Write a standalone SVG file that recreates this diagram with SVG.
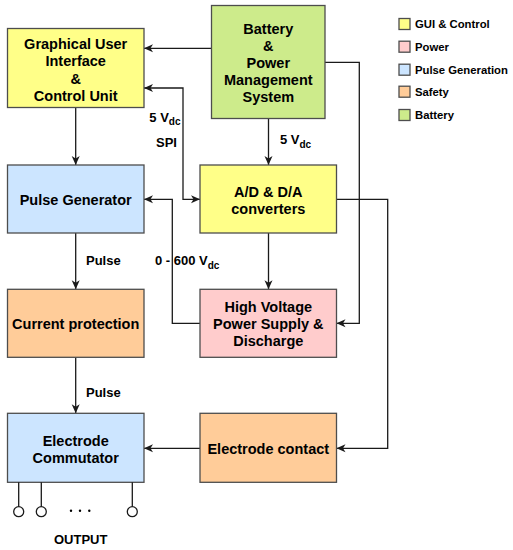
<svg xmlns="http://www.w3.org/2000/svg" width="513" height="550" viewBox="0 0 513 550">
<style>
.box{stroke:#4d4d4d;stroke-width:1.3}
.t{font-family:"Liberation Sans",Arial,sans-serif;font-weight:bold;font-size:14.5px;fill:#000;text-anchor:middle}
.lbl{font-family:"Liberation Sans",Arial,sans-serif;font-weight:bold;font-size:13px;fill:#000}
.leg{font-family:"Liberation Sans",Arial,sans-serif;font-weight:bold;font-size:11.3px;fill:#000}
.sub{font-size:10px}
.c{fill:none;stroke:#1a1a1a;stroke-width:1.3}
.gui{fill:#ffff88}.pow{fill:#ffcccc}.pul{fill:#cce5ff}.saf{fill:#ffcc99}.bat{fill:#cdeb8b}
</style>
<defs>
<marker id="ah" markerUnits="userSpaceOnUse" markerWidth="10" markerHeight="10" refX="9" refY="5" orient="auto-start-reverse" viewBox="0 0 10 10">
<path d="M0,1 L9,5 L0,9 L2.5,5 z" fill="#1a1a1a"/>
</marker>
</defs>
<rect width="513" height="550" fill="#fff"/>
<g id="connectors">
<path class="c" d="M211.5,48.3 H144" marker-end="url(#ah)"/>
<path class="c" d="M144,88 H183 V199.3 H200" marker-start="url(#ah)" marker-end="url(#ah)"/>
<path class="c" d="M325,62.3 H359.3 V323.3 H336.5" marker-end="url(#ah)"/>
<path class="c" d="M268.5,118.5 V165" marker-end="url(#ah)"/>
<path class="c" d="M75.7,107.5 V165" marker-end="url(#ah)"/>
<path class="c" d="M75.7,233 V289.3" marker-end="url(#ah)"/>
<path class="c" d="M268.5,233 V289.3" marker-end="url(#ah)"/>
<path class="c" d="M200,323.3 H172.3 V199.3 H144" marker-end="url(#ah)"/>
<path class="c" d="M336.5,199.3 H387.7 V448.3 H336.5" marker-end="url(#ah)"/>
<path class="c" d="M75.7,357.3 V413.3" marker-end="url(#ah)"/>
<path class="c" d="M200,448.3 H144" marker-end="url(#ah)"/>
<text class="lbl" x="149.3" y="121.7">5 V<tspan class="sub" dy="3.5">dc</tspan></text>
<text class="lbl" x="156" y="146.7">SPI</text>
<text class="lbl" x="280" y="144">5 V<tspan class="sub" dy="3.5">dc</tspan></text>
<text class="lbl" x="86" y="265">Pulse</text>
<text class="lbl" x="155" y="265">0 - 600 V<tspan class="sub" dy="3.5">dc</tspan></text>
<text class="lbl" x="86" y="397">Pulse</text>
</g>
<g id="gui">
<rect class="box gui" x="7.5" y="28.5" width="136.5" height="79"/>
<text class="t" x="75.7" y="48.5">Graphical User</text>
<text class="t" x="75.7" y="66">Interface</text>
<text class="t" x="75.7" y="83.5">&amp;</text>
<text class="t" x="75.7" y="100.5">Control Unit</text>
</g>
<g id="battery">
<rect class="box bat" x="211.5" y="5.5" width="113.5" height="113"/>
<text class="t" x="268.3" y="34">Battery</text>
<text class="t" x="268.3" y="51">&amp;</text>
<text class="t" x="268.3" y="68">Power</text>
<text class="t" x="268.3" y="85">Management</text>
<text class="t" x="268.3" y="102">System</text>
</g>
<g id="pulse-generator">
<rect class="box pul" x="7.5" y="165" width="136.5" height="68"/>
<text class="t" x="75.7" y="204.5">Pulse Generator</text>
</g>
<g id="adda">
<rect class="box gui" x="200" y="165" width="136.5" height="68"/>
<text class="t" x="268.3" y="197">A/D &amp; D/A</text>
<text class="t" x="268.3" y="213.5">converters</text>
</g>
<g id="current-protection">
<rect class="box saf" x="7.5" y="289.3" width="136.5" height="68"/>
<text class="t" x="75.7" y="328.5">Current protection</text>
</g>
<g id="hv">
<rect class="box pow" x="200" y="289.3" width="136.5" height="68"/>
<text class="t" x="268.3" y="312">High Voltage</text>
<text class="t" x="268.3" y="329">Power Supply &amp;</text>
<text class="t" x="268.3" y="346">Discharge</text>
</g>
<g id="electrode-commutator">
<rect class="box pul" x="7.5" y="413.3" width="136.5" height="69"/>
<text class="t" x="75.7" y="446">Electrode</text>
<text class="t" x="75.7" y="463">Commutator</text>
<g fill="#fff" stroke="#1a1a1a" stroke-width="1.3">
<path d="M18.7,482.3 V506.7 M41.3,482.3 V506.7 M132.3,482.3 V506.7" fill="none"/>
<circle cx="18.7" cy="511.7" r="5"/>
<circle cx="41.3" cy="511.7" r="5"/>
<circle cx="132.3" cy="511.7" r="5"/>
</g>
<g fill="#000">
<circle cx="71" cy="510.7" r="1.2"/>
<circle cx="80" cy="510.7" r="1.2"/>
<circle cx="89.3" cy="510.7" r="1.2"/>
</g>
<text class="lbl" x="80.7" y="544" text-anchor="middle">OUTPUT</text>
</g>
<g id="electrode-contact">
<rect class="box saf" x="200" y="413.3" width="136.5" height="69"/>
<text class="t" x="268.3" y="453.5">Electrode contact</text>
</g>
<g id="legend">
<rect class="box gui" x="399" y="18.5" width="11" height="11" stroke-width="1"/>
<text class="leg" x="415" y="28">GUI &amp; Control</text>
<rect class="box pow" x="399" y="41.2" width="11" height="11" stroke-width="1"/>
<text class="leg" x="415" y="50.7">Power</text>
<rect class="box pul" x="399" y="64.2" width="11" height="11" stroke-width="1"/>
<text class="leg" x="415" y="73.7">Pulse Generation</text>
<rect class="box saf" x="399" y="86.2" width="11" height="11" stroke-width="1"/>
<text class="leg" x="415" y="95.7">Safety</text>
<rect class="box bat" x="399" y="109.5" width="11" height="11" stroke-width="1"/>
<text class="leg" x="415" y="119">Battery</text>
</g>
</svg>
